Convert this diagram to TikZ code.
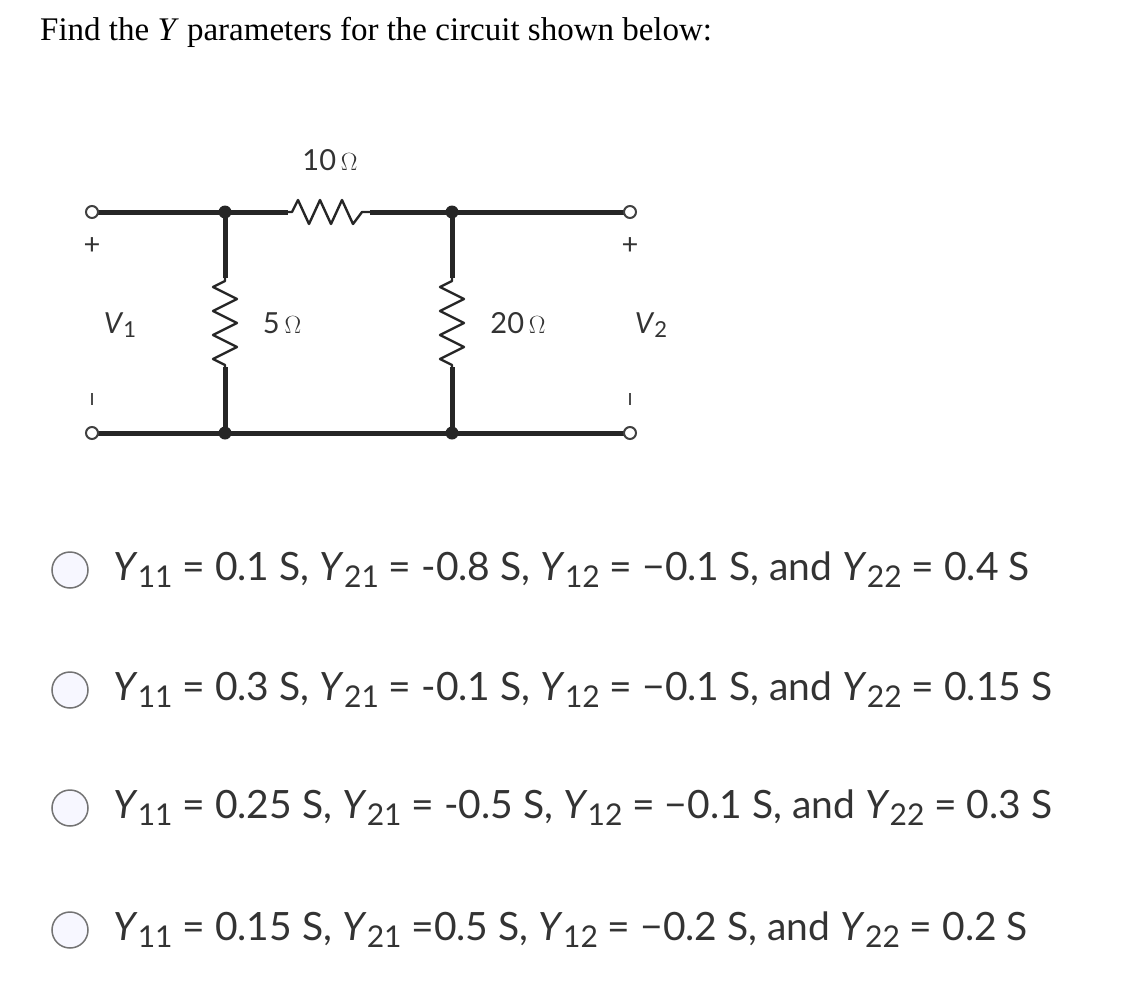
\documentclass[tikz,border=0pt]{standalone}
\usepackage{fontspec}
\setmainfont{Liberation Serif}
\newfontfamily\opt{Lato}
\newcommand{\sbs}[1]{\raisebox{-0.35ex}{\fontsize{30}{32}\selectfont #1}}
\newcommand{\Yv}{\textit{Y}}
\begin{document}
\begin{tikzpicture}[x=1pt,y=-1pt,
 wire/.style={line width=5pt,color=black!85},
 rz/.style={line width=2.4pt,color=black!85,line join=round},
 dotn/.style={circle,fill=black!85,inner sep=0,minimum size=13pt},
 term/.style={circle,draw=black!75,line width=2pt,fill=white,inner sep=0,minimum size=12pt},
 lab/.style={font=\opt\fontsize{29}{31}\selectfont,color=black!80},
 radio/.style={circle,draw=black!55,line width=1.5pt,fill=blue!3,inner sep=0,minimum size=36pt},
 optxt/.style={anchor=west,font=\opt\fontsize{39}{43}\selectfont,inner sep=0}]
\useasboundingbox (0,0) rectangle (1130,996);
\node[anchor=west,font=\fontsize{33}{37}\selectfont,inner sep=0] (q) at (40,32) {Find the \textit{Y} parameters for the circuit shown below:};
\coordinate (a) at (225,212); \coordinate (b) at (452,212);
\coordinate (c) at (225,433); \coordinate (d) at (452,433);
\coordinate (r1) at (288,212); \coordinate (r2) at (370,212);
\draw[wire] (92,212) -- (a) -- (r1);
\draw[rz] (r1) -- (292,212) -- (298,200) -- (309,224) -- (320,200) -- (331,224) -- (342,200) -- (353,224) -- (362,212) -- (r2);
\draw[wire] (r2) -- (b) -- (630,212);
\draw[wire] (92,433) -- (630,433);
\foreach \x in {225,452}{
 \draw[wire] (\x,212) -- (\x,278);
 \draw[rz] (\x,276) -- (\x,281) -- (\x-12,287) -- (\x+12,299) -- (\x-12,311) -- (\x+12,323) -- (\x-12,335) -- (\x+12,347) -- (\x-12,359) -- (\x,365) -- (\x,369);
 \draw[wire] (\x,367) -- (\x,433);}
\foreach \p in {a,b,c,d} \node[dotn] at (\p) {};
\node[term] (t1) at (92,212) {}; \node[term] (t2) at (630,212) {};
\node[term] (t3) at (92,433) {}; \node[term] (t4) at (630,433) {};
\node[lab] at (330,160) {10\,{\fontsize{32}{34}\selectfont$\Omega$}};
\node[lab] at (282,323) {5\,{\fontsize{32}{34}\selectfont$\Omega$}};
\node[lab] at (518,323) {20\,{\fontsize{32}{34}\selectfont$\Omega$}};
\node[lab] at (120,325) {\textit{V}\raisebox{-0.3ex}{\fontsize{22}{24}\selectfont 1}};
\node[lab] at (651,325) {\textit{V}\raisebox{-0.3ex}{\fontsize{22}{24}\selectfont 2}};
\node[lab] at (92,246) {+}; \node[lab] at (630,246) {+};
\draw[line width=1.5pt,black!70] (92,393) -- (92,405) (630,393) -- (630,405);
\node[radio] (o1) at (70,570) {}; \node[optxt,text=black!80] at (113,570) {\Yv\sbs{11} = 0.1 S, \Yv\sbs{21} = -0.8 S, \Yv\sbs{12} = −0.1 S, and \Yv\sbs{22} = 0.4 S};
\node[radio] (o2) at (70,690) {}; \node[optxt,text=black!80] at (113,690) {\Yv\sbs{11} = 0.3 S, \Yv\sbs{21} = -0.1 S, \Yv\sbs{12} = −0.1 S, and \Yv\sbs{22} = 0.15 S};
\node[radio] (o3) at (70,808) {}; \node[optxt,text=black!80] at (113,808) {\Yv\sbs{11} = 0.25 S, \Yv\sbs{21} = -0.5 S, \Yv\sbs{12} = −0.1 S, and \Yv\sbs{22} = 0.3 S};
\node[radio] (o4) at (70,930) {}; \node[optxt,text=black!80] at (113,930) {\Yv\sbs{11} = 0.15 S, \Yv\sbs{21} =0.5 S, \Yv\sbs{12} = −0.2 S, and \Yv\sbs{22} = 0.2 S};
\end{tikzpicture}
\end{document}
